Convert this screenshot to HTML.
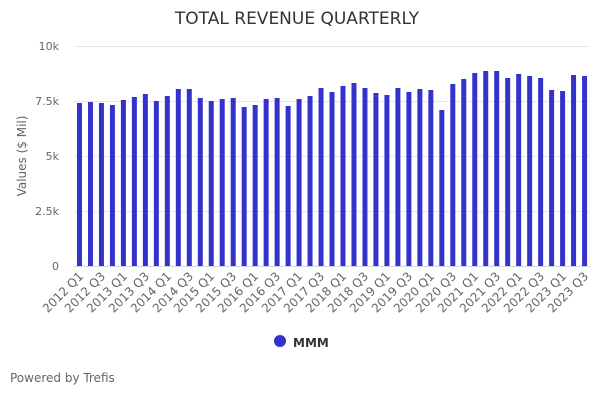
<!DOCTYPE html>
<html><head><meta charset="utf-8"><style>
html,body{margin:0;padding:0;background:#fff;}
svg{display:block;font-family:"DejaVu Sans","Liberation Sans",sans-serif;}
</style></head><body>
<svg width="600" height="400" xmlns="http://www.w3.org/2000/svg">
<text x="297" y="24" text-anchor="middle" font-size="17" fill="#333">TOTAL REVENUE QUARTERLY</text>
<g stroke="#e6e6e6" stroke-width="1">
<line x1="74" x2="590" y1="46.5" y2="46.5"/>
<line x1="74" x2="590" y1="101.5" y2="101.5"/>
<line x1="74" x2="590" y1="156.5" y2="156.5"/>
<line x1="74" x2="590" y1="211.5" y2="211.5"/>
</g>
<g font-size="11" fill="#666" text-anchor="end">
<text x="59" y="50">10k</text>
<text x="59" y="105">7.5k</text>
<text x="59" y="160">5k</text>
<text x="59" y="215">2.5k</text>
<text x="59" y="270">0</text>
</g>
<text transform="translate(26,156) rotate(-90)" text-anchor="middle" font-size="12" fill="#666">Values ($ Mil)</text>
<g fill="#3333cc">
<rect x="76.99" y="103" width="5" height="163"/>
<rect x="87.97" y="102" width="5" height="164"/>
<rect x="98.95" y="103" width="5" height="163"/>
<rect x="109.93" y="105" width="5" height="161"/>
<rect x="120.91" y="100" width="5" height="166"/>
<rect x="131.89" y="97" width="5" height="169"/>
<rect x="142.87" y="94" width="5" height="172"/>
<rect x="153.85" y="101" width="5" height="165"/>
<rect x="164.83" y="96" width="5" height="170"/>
<rect x="175.81" y="89" width="5" height="177"/>
<rect x="186.79" y="89" width="5" height="177"/>
<rect x="197.77" y="98" width="5" height="168"/>
<rect x="208.74" y="101" width="5" height="165"/>
<rect x="219.72" y="99" width="5" height="167"/>
<rect x="230.70" y="98" width="5" height="168"/>
<rect x="241.68" y="107" width="5" height="159"/>
<rect x="252.66" y="105" width="5" height="161"/>
<rect x="263.64" y="99" width="5" height="167"/>
<rect x="274.62" y="98" width="5" height="168"/>
<rect x="285.60" y="106" width="5" height="160"/>
<rect x="296.58" y="99" width="5" height="167"/>
<rect x="307.56" y="96" width="5" height="170"/>
<rect x="318.54" y="88" width="5" height="178"/>
<rect x="329.52" y="92" width="5" height="174"/>
<rect x="340.50" y="86" width="5" height="180"/>
<rect x="351.48" y="83" width="5" height="183"/>
<rect x="362.46" y="88" width="5" height="178"/>
<rect x="373.44" y="93" width="5" height="173"/>
<rect x="384.42" y="95" width="5" height="171"/>
<rect x="395.40" y="88" width="5" height="178"/>
<rect x="406.38" y="92" width="5" height="174"/>
<rect x="417.36" y="89" width="5" height="177"/>
<rect x="428.34" y="90" width="5" height="176"/>
<rect x="439.32" y="110" width="5" height="156"/>
<rect x="450.30" y="84" width="5" height="182"/>
<rect x="461.28" y="79" width="5" height="187"/>
<rect x="472.26" y="73" width="5" height="193"/>
<rect x="483.23" y="71" width="5" height="195"/>
<rect x="494.21" y="71" width="5" height="195"/>
<rect x="505.19" y="78" width="5" height="188"/>
<rect x="516.17" y="74" width="5" height="192"/>
<rect x="527.15" y="76" width="5" height="190"/>
<rect x="538.13" y="78" width="5" height="188"/>
<rect x="549.11" y="90" width="5" height="176"/>
<rect x="560.09" y="91" width="5" height="175"/>
<rect x="571.07" y="75" width="5" height="191"/>
<rect x="582.05" y="76" width="5" height="190"/>
</g>
<line x1="74" x2="590" y1="266.5" y2="266.5" stroke="#ccd6eb" stroke-width="1"/>
<g font-size="12" fill="#666" text-anchor="end">
<text transform="translate(84,277) rotate(-45)">2012 Q1</text>
<text transform="translate(106,277) rotate(-45)">2012 Q3</text>
<text transform="translate(128,277) rotate(-45)">2013 Q1</text>
<text transform="translate(150,277) rotate(-45)">2013 Q3</text>
<text transform="translate(172,277) rotate(-45)">2014 Q1</text>
<text transform="translate(194,277) rotate(-45)">2014 Q3</text>
<text transform="translate(215,277) rotate(-45)">2015 Q1</text>
<text transform="translate(237,277) rotate(-45)">2015 Q3</text>
<text transform="translate(259,277) rotate(-45)">2016 Q1</text>
<text transform="translate(281,277) rotate(-45)">2016 Q3</text>
<text transform="translate(303,277) rotate(-45)">2017 Q1</text>
<text transform="translate(325,277) rotate(-45)">2017 Q3</text>
<text transform="translate(347,277) rotate(-45)">2018 Q1</text>
<text transform="translate(369,277) rotate(-45)">2018 Q3</text>
<text transform="translate(391,277) rotate(-45)">2019 Q1</text>
<text transform="translate(413,277) rotate(-45)">2019 Q3</text>
<text transform="translate(435,277) rotate(-45)">2020 Q1</text>
<text transform="translate(457,277) rotate(-45)">2020 Q3</text>
<text transform="translate(479,277) rotate(-45)">2021 Q1</text>
<text transform="translate(501,277) rotate(-45)">2021 Q3</text>
<text transform="translate(523,277) rotate(-45)">2022 Q1</text>
<text transform="translate(545,277) rotate(-45)">2022 Q3</text>
<text transform="translate(567,277) rotate(-45)">2023 Q1</text>
<text transform="translate(589,277) rotate(-45)">2023 Q3</text>
</g>
<circle cx="280" cy="341" r="6" fill="#3333cc"/>
<text x="293" y="347" font-size="12" font-weight="bold" fill="#333">MMM</text>
<text x="10" y="382" font-size="12" fill="#666">Powered by Trefis</text>
</svg>
</body></html>
